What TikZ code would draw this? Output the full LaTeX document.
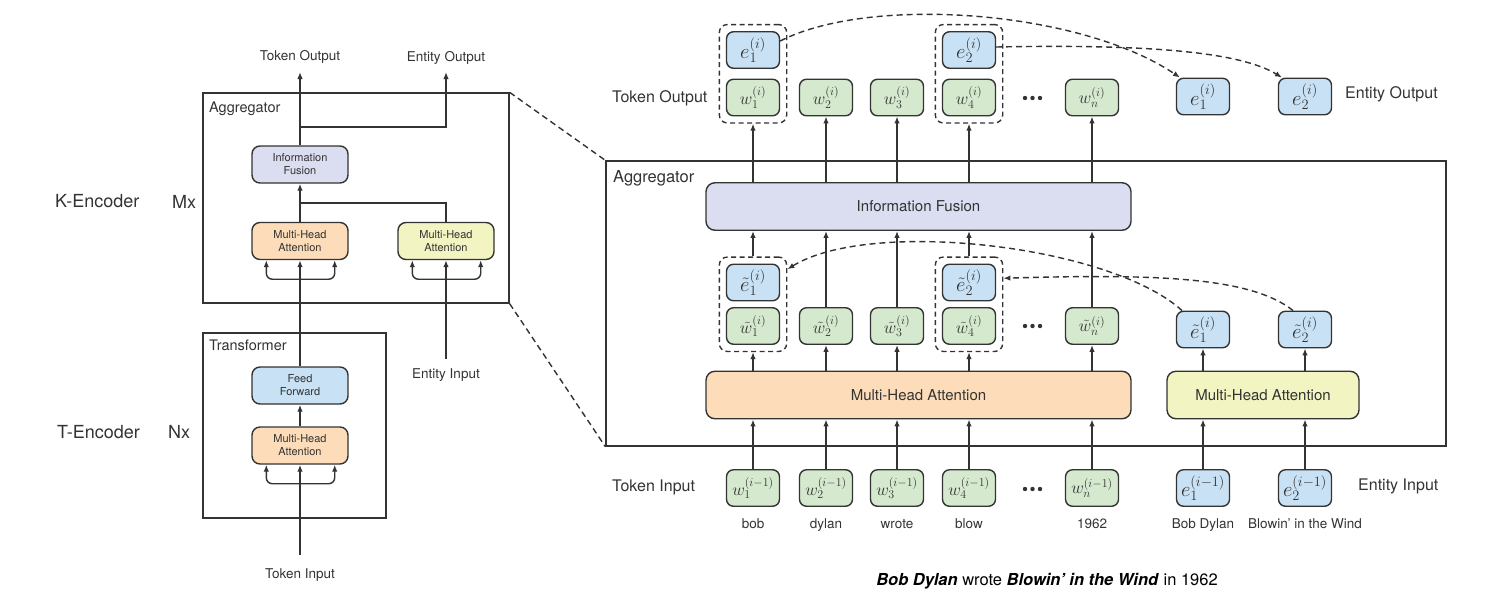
\documentclass[tikz,border=0pt]{standalone}
\usepackage[no-math]{fontspec}
\setmainfont{TeX Gyre Heros}
\usetikzlibrary{arrows.meta,fit,calc}
\definecolor{lc}{HTML}{333333}
\definecolor{tc}{HTML}{333333}
\definecolor{cgreen}{HTML}{D5E9CE}
\definecolor{cblue}{HTML}{C8E1F4}
\definecolor{clav}{HTML}{DBDDF0}
\definecolor{corange}{HTML}{FDDDB9}
\definecolor{cyellow}{HTML}{F2F4C2}
\tikzset{
  sbox/.style={draw=lc, line width=1.4pt, rounded corners=7pt, minimum width=53pt, minimum height=36.5pt, inner sep=0pt, text=tc},
  gbox/.style={sbox, fill=cgreen, font=\fontsize{18}{20}\selectfont},
  ebox/.style={sbox, fill=cblue, font=\fontsize{22}{24}\selectfont},
  ibox/.style={sbox, fill=cgreen, font=\fontsize{18.5}{20}\selectfont},
  iebox/.style={sbox, fill=cblue, font=\fontsize{20}{22}\selectfont},
  lmod/.style={draw=lc, line width=1.4pt, rounded corners=8pt, minimum width=96pt, minimum height=37pt, inner sep=0pt, align=center, text=tc, font=\fontsize{11}{13}\selectfont},
  rmod/.style={draw=lc, line width=1.4pt, rounded corners=9pt, minimum height=47.5pt, inner sep=0pt, text=tc, font=\fontsize{15}{18}\selectfont},
  bigbox/.style={draw=lc, line width=1.3pt, inner sep=0pt},
  grp/.style={draw=lc, line width=1.4pt, dash pattern=on 5pt off 3.5pt, rounded corners=8pt, inner sep=6.5pt, fit=#1},
  lbl/.style={text=tc, inner sep=0pt, font=\fontsize{16}{19}\selectfont},
  slbl/.style={text=tc, inner sep=0pt, font=\fontsize{13.5}{16}\selectfont},
  arr/.style={line width=1.4pt, draw=lc, -{Latex[length=7pt,width=5.5pt]}},
  barr/.style={line width=1.4pt, draw=lc, rounded corners=6pt, {Latex[length=7pt,width=5.5pt]}-{Latex[length=7pt,width=5.5pt]}},
  ln/.style={line width=1.4pt, draw=lc},
  dsh/.style={line width=1.4pt, draw=lc, dash pattern=on 6pt off 4pt},
  darr/.style={dsh, -{Latex[length=7pt,width=5.5pt]}},
}
\begin{document}
\begin{tikzpicture}[x=1pt,y=-1pt]
\useasboundingbox (0,0) rectangle (1490,598);
% ---------- left panel ----------
\node[bigbox, minimum width=306pt, minimum height=210pt] (lagg) at (356,198) {};
\node[bigbox, minimum width=183pt, minimum height=185pt] (ltr) at (294.5,425.5) {};
\node[text=tc, inner sep=0pt, font=\fontsize{14.5}{17}\selectfont, anchor=north west] (laggl) at (209,102) {Aggregator};
\node[text=tc, inner sep=0pt, font=\fontsize{14.5}{17}\selectfont, anchor=north west] (ltrl) at (209,340) {Transformer};
\node[text=tc, inner sep=0pt, font=\fontsize{18}{20}\selectfont, anchor=west] (kenc) at (55,201.5) {K-Encoder};
\node[text=tc, inner sep=0pt, font=\fontsize{18}{20}\selectfont, anchor=west] (kmx) at (172,201.5) {Mx};
\node[text=tc, inner sep=0pt, font=\fontsize{18}{20}\selectfont, anchor=west] (tenc) at (57,432) {T-Encoder};
\node[text=tc, inner sep=0pt, font=\fontsize{18}{20}\selectfont, anchor=west] (tnx) at (168,432) {Nx};

\node[lmod, fill=clav] (lIF) at (300,164.5) {Information\\Fusion};
\node[lmod, fill=corange] (lMHA1) at (300,241) {Multi-Head\\Attention};
\node[lmod, fill=cyellow] (lMHA2) at (446,241) {Multi-Head\\Attention};
\node[lmod, fill=cblue] (lFF) at (300,385.5) {Feed\\Forward};
\node[lmod, fill=corange] (lMHA3) at (300,445.5) {Multi-Head\\Attention};

\node[text=tc, inner sep=0pt, font=\fontsize{13.5}{16}\selectfont, anchor=base] (ltokout) at (300,60) {Token Output};
\node[text=tc, inner sep=0pt, font=\fontsize{13.5}{16}\selectfont, anchor=base] (lentout) at (446,61) {Entity Output};
\node[text=tc, inner sep=0pt, font=\fontsize{13.5}{16}\selectfont, anchor=base] (ltokin) at (300,578) {Token Input};
\node[text=tc, inner sep=0pt, font=\fontsize{13.5}{16}\selectfont, anchor=base] (lentin) at (446,378) {Entity Input};

\coordinate (ltoktip) at (300,72);
\coordinate (lenttip) at (446,72);
\coordinate (lsplit) at (300,127);
\coordinate (lentbot) at (446,359);
\coordinate (ltokbot) at (300,555);
\coordinate (ljoin) at (300,203);

\draw[arr] (ltokbot) -- (lMHA3.south);
\draw[barr] ($(lMHA3.south west)+(15,0)$) -- ++(0,19) -- ($(lMHA3.south east)+(-14,19)$) -- ($(lMHA3.south east)+(-14,0)$);
\draw[arr] (lMHA3.north) -- (lFF.south);
\draw[arr] (lFF.north) -- (lMHA1.south);
\draw[barr] ($(lMHA1.south west)+(15,0)$) -- ++(0,19) -- ($(lMHA1.south east)+(-14,19)$) -- ($(lMHA1.south east)+(-14,0)$);
\draw[arr] (lentbot) -- (lMHA2.south);
\draw[barr] ($(lMHA2.south west)+(15,0)$) -- ++(0,19) -- ($(lMHA2.south east)+(-14,19)$) -- ($(lMHA2.south east)+(-14,0)$);
\draw[arr] (lMHA1.north) -- (lIF.south);
\draw[ln] (lMHA2.north) |- (ljoin);
\draw[arr] (lIF.north) -- (ltoktip);
\draw[ln] (lsplit) -| (446,100);
\draw[arr] (446,110) -- (lenttip);

% ---------- zoom lines ----------
\node[bigbox, minimum width=840pt, minimum height=285pt] (ragg) at (1026,303.5) {};
\draw[dsh] (lagg.north east) -- (ragg.north west);
\draw[dsh] (lagg.south east) -- (ragg.south west);
\node[text=tc, inner sep=0pt, font=\fontsize{16.5}{19}\selectfont, anchor=north west] (raggl) at (613,170) {Aggregator};

% ---------- right panel ----------
\node[rmod, fill=clav, minimum width=425pt] (rIF) at (918.5,206.5) {Information Fusion};
\node[rmod, fill=corange, minimum width=425pt] (rMHA) at (918.5,395) {Multi-Head Attention};
\node[rmod, fill=cyellow, minimum width=192pt] (rMHAe) at (1263,395) {Multi-Head Attention};

% top output row
\node[ebox] (eo1) at (753,50) {$e_1^{(i)}$};
\node[ebox] (eo4) at (969,50) {$e_2^{(i)}$};
\node[gbox] (wo1) at (753,97.5) {$w_1^{(i)}$};
\node[gbox] (wo2) at (826,97.5) {$w_2^{(i)}$};
\node[gbox] (wo3) at (897,97.5) {$w_3^{(i)}$};
\node[gbox] (wo4) at (969,97.5) {$w_4^{(i)}$};
\node[gbox] (won) at (1092,97.5) {$w_n^{(i)}$};
\node[ebox] (eoe1) at (1203,96.5) {$e_1^{(i)}$};
\node[ebox] (eoe2) at (1305,96.5) {$e_2^{(i)}$};
\node[grp={(eo1)(wo1)}] (g1t) {};
\node[grp={(eo4)(wo4)}] (g4t) {};

% middle row
\node[ebox] (et1) at (753,282.5) {$\tilde{e}_1^{(i)}$};
\node[ebox] (et4) at (969,282.5) {$\tilde{e}_2^{(i)}$};
\node[gbox] (wt1) at (753,326) {$\tilde{w}_1^{(i)}$};
\node[gbox] (wt2) at (826,326) {$\tilde{w}_2^{(i)}$};
\node[gbox] (wt3) at (897,326) {$\tilde{w}_3^{(i)}$};
\node[gbox] (wt4) at (969,326) {$\tilde{w}_4^{(i)}$};
\node[gbox] (wtn) at (1092,326) {$\tilde{w}_n^{(i)}$};
\node[ebox] (ete1) at (1203,329.5) {$\tilde{e}_1^{(i)}$};
\node[ebox] (ete2) at (1305,329.5) {$\tilde{e}_2^{(i)}$};
\node[grp={(et1)(wt1)}] (g1m) {};
\node[grp={(et4)(wt4)}] (g4m) {};

% input row
\node[ibox] (wi1) at (753,488) {$w_1^{(i-1)}$};
\node[ibox] (wi2) at (826,488) {$w_2^{(i-1)}$};
\node[ibox] (wi3) at (897,488) {$w_3^{(i-1)}$};
\node[ibox] (wi4) at (969,488) {$w_4^{(i-1)}$};
\node[ibox] (win) at (1092,488) {$w_n^{(i-1)}$};
\node[iebox] (ei1) at (1203,488) {$e_1^{(i-1)}$};
\node[iebox] (ei2) at (1305,488) {$e_2^{(i-1)}$};

% dots
\foreach \yy in {98,326,489}{
  \fill[lc] (1025,\yy) circle (2.2pt);
  \fill[lc] (1032.5,\yy) circle (2.2pt);
  \fill[lc] (1040,\yy) circle (2.2pt);
}

% labels
\node[lbl, anchor=base west] (rtokout) at (612,102) {Token Output};
\node[lbl, anchor=base west] (rentout) at (1345,98) {Entity Output};
\node[lbl, anchor=base west] (rtokin) at (612,491) {Token Input};
\node[lbl, anchor=base west] (rentin) at (1358,490) {Entity Input};
\node[slbl, anchor=base] (t1) at (753,528) {bob};
\node[slbl, anchor=base] (t2) at (826,528) {dylan};
\node[slbl, anchor=base] (t3) at (897,528) {wrote};
\node[slbl, anchor=base] (t4) at (969,528) {blow};
\node[slbl, anchor=base] (tn) at (1092,528) {1962};
\node[slbl, anchor=base] (te1) at (1203,528) {Bob Dylan};
\node[slbl, anchor=base] (te2) at (1305,528) {Blowin’ in the Wind};
\node[text=black, inner sep=0pt, font=\fontsize{16.5}{19}\selectfont, anchor=base] (cap) at (1047,585) {\textbf{\textit{Bob Dylan}} wrote \textbf{\textit{Blowin’ in the Wind}} in 1962};

% input arrows
\foreach \n in {wi1,wi2,wi3,wi4,win}{ \draw[arr] (\n.north) -- (\n |- rMHA.south); }
\foreach \n in {ei1,ei2}{ \draw[arr] (\n.north) -- (\n |- rMHAe.south); }
% MHA -> middle
\draw[arr] (wt1 |- rMHA.north) -- (wt1 |- g1m.south);
\draw[arr] (wt4 |- rMHA.north) -- (wt4 |- g4m.south);
\foreach \n in {wt2,wt3,wtn}{ \draw[arr] (\n |- rMHA.north) -- (\n.south); }
\draw[arr] (ete1 |- rMHAe.north) -- (ete1.south);
\draw[arr] (ete2 |- rMHAe.north) -- (ete2.south);
% middle -> IF
\draw[arr] (wt1 |- g1m.north) -- (wt1 |- rIF.south);
\draw[arr] (wt4 |- g4m.north) -- (wt4 |- rIF.south);
\foreach \n in {wt2,wt3,wtn}{ \draw[arr] (\n.north) -- (\n |- rIF.south); }
% IF -> top
\draw[arr] (wo1 |- rIF.north) -- (wo1 |- g1t.south);
\draw[arr] (wo4 |- rIF.north) -- (wo4 |- g4t.south);
\foreach \n in {wo2,wo3,won}{ \draw[arr] (\n |- rIF.north) -- (\n.south); }

% dashed curves
\draw[darr] ($(ete1.north)+(-21,0)$) .. controls (1110,245) and (870,218) .. ($(g1m.east)+(0,-35)$);
\draw[darr] ($(ete2.north)+(-12,0)$) .. controls (1250,276) and (1150,274) .. ($(g4m.east)+(0,-26)$);
\draw[darr] ($(eo1.east)+(0,-9)$) .. controls (870,-5) and (1080,10) .. ($(eoe1.north)+(-23,0)$);
\draw[darr] ($(eo4.east)+(0,-3)$) .. controls (1150,44) and (1240,52) .. ($(eoe2.north)+(-23,0)$);
\end{tikzpicture}
\end{document}
